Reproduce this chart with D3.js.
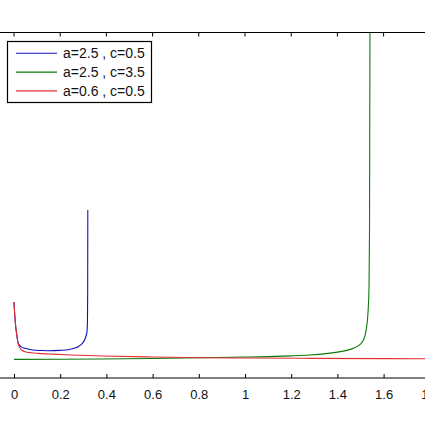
<!DOCTYPE html>
<html>
<head>
<meta charset="utf-8">
<script src="https://cdn.jsdelivr.net/npm/d3@7"></script>
<style>
  html, body { margin: 0; padding: 0; background: #fff; }
  svg { display: block; font-family: "Liberation Sans", Arial, sans-serif; }
</style>
</head>
<body>
<div id="chart"></div>
<script>
// x ticks along the axis
const xTicks = [0, 0.2, 0.4, 0.6, 0.8, 1, 1.2, 1.4, 1.6, 1.8];

// series names (legend order)
const seriesNames = ["a=2.5 , c=0.5", "a=2.5 , c=3.5", "a=0.6 , c=0.5"];
const seriesColors = ["#1010c0", "#0a7a0a", "#e03030"];

// a=2.5 , c=0.5
const blueX = [0, 0.004, 0.008, 0.011, 0.015, 0.019, 0.03, 0.048, 0.08, 0.12, 0.147, 0.2, 0.235, 0.26, 0.278, 0.29, 0.3, 0.307, 0.312, 0.316, 0.318, 0.319, 0.3195];
const blueY = [2.2, 1.75, 1.45, 1.3, 1.12, 1.0, 0.91, 0.86, 0.81, 0.795, 0.79, 0.8, 0.82, 0.86, 0.905, 0.965, 1.04, 1.12, 1.22, 1.35, 1.65, 2.5, 4.86];

// a=2.5 , c=3.5
const greenX = [0, 0.2, 0.372, 0.6, 0.805, 1.0, 1.1, 1.2, 1.28, 1.35, 1.4, 1.44, 1.47, 1.49, 1.505, 1.515, 1.522, 1.528, 1.533, 1.537, 1.539, 1.541];
const greenY = [0.54, 0.543, 0.549, 0.565, 0.587, 0.607, 0.62, 0.64, 0.665, 0.705, 0.75, 0.8, 0.86, 0.93, 1.02, 1.14, 1.3, 1.55, 1.95, 2.7, 4.2, 10];

// a=0.6 , c=0.5
const redX = [0, 0.004, 0.008, 0.011, 0.015, 0.019, 0.03, 0.048, 0.075, 0.105, 0.17, 0.25, 0.385, 0.6, 0.805, 1.0, 1.28, 1.6, 1.8];
const redY = [2.2, 1.75, 1.45, 1.3, 1.1, 0.97, 0.83, 0.76, 0.73, 0.714, 0.69, 0.665, 0.636, 0.607, 0.587, 0.578, 0.569, 0.561, 0.558];

function init() {
    const w = 425;
    const h = 425;
    const top = 32.5;
    const bottom = 378;

    const xScale = d3.scaleLinear().domain([0, 1.8]).range([14, 429.8]);
    const yScale = d3.scaleLinear().domain([0, 10]).range([bottom, top]);

    const svg = d3.select("#chart").append("svg")
        .attr("width", w)
        .attr("height", h);

    svg.append("clipPath").attr("id", "plot-clip")
        .append("rect")
        .attr("x", -50).attr("y", top)
        .attr("width", w + 100).attr("height", bottom - top);

    // box lines top and bottom (left/right lie outside the crop)
    svg.append("line")
        .attr("x1", -5).attr("x2", w + 5)
        .attr("y1", top).attr("y2", top)
        .attr("stroke", "#000").attr("stroke-width", 1.2);

    // bottom axis, ticks inside
    const xAxis = d3.axisBottom(xScale)
        .tickValues(xTicks)
        .tickSize(-4)
        .tickPadding(12)
        .tickFormat(d3.format("~g"));

    const gx = svg.append("g")
        .attr("transform", `translate(0,${bottom})`)
        .call(xAxis);
    gx.select(".domain").remove();
    gx.append("line")
        .attr("x1", -5).attr("x2", w + 5)
        .attr("stroke", "#000").attr("stroke-width", 1.2);
    gx.selectAll(".tick line").attr("stroke", "#000");
    gx.selectAll("text")
        .attr("font-size", "13px")
        .attr("fill", "#111")
        .attr("font-family", "'Liberation Sans', Arial, sans-serif");

    // top ticks pointing down
    svg.append("g").selectAll("line")
        .data(xTicks)
        .enter()
        .append("line")
        .attr("x1", d => xScale(d)).attr("x2", d => xScale(d))
        .attr("y1", top).attr("y2", top + 4)
        .attr("stroke", "#000");

    const plot = svg.append("g").attr("clip-path", "url(#plot-clip)");

    const series = [
        { xs: blueX, ys: blueY },
        { xs: greenX, ys: greenY },
        { xs: redX, ys: redY }
    ];

    const line = d3.line()
        .x(d => xScale(d[0]))
        .y(d => yScale(d[1]))
        .curve(d3.curveMonotoneX);

    series.forEach((s, i) => {
        plot.append("path")
            .datum(d3.zip(s.xs, s.ys))
            .attr("fill", "none")
            .attr("stroke", seriesColors[i])
            .attr("stroke-width", 1.1)
            .attr("d", line);
    });

    // legend
    const legend = svg.append("g");
    legend.append("rect")
        .attr("x", 7.5).attr("y", 41.5)
        .attr("width", 144).attr("height", 61)
        .attr("fill", "#fff")
        .attr("stroke", "#000")
        .attr("stroke-width", 1.2);

    seriesNames.forEach((name, i) => {
        const yy = 53.3 + i * 18.8;
        legend.append("line")
            .attr("x1", 16).attr("x2", 57)
            .attr("y1", yy).attr("y2", yy)
            .attr("stroke", seriesColors[i])
            .attr("stroke-width", 1.1);
        legend.append("text")
            .attr("x", 63)
            .attr("y", yy + 5)
            .attr("font-size", "14px")
            .attr("fill", "#111")
            .text(name);
    });
}

window.onload = init;
</script>
</body>
</html>
